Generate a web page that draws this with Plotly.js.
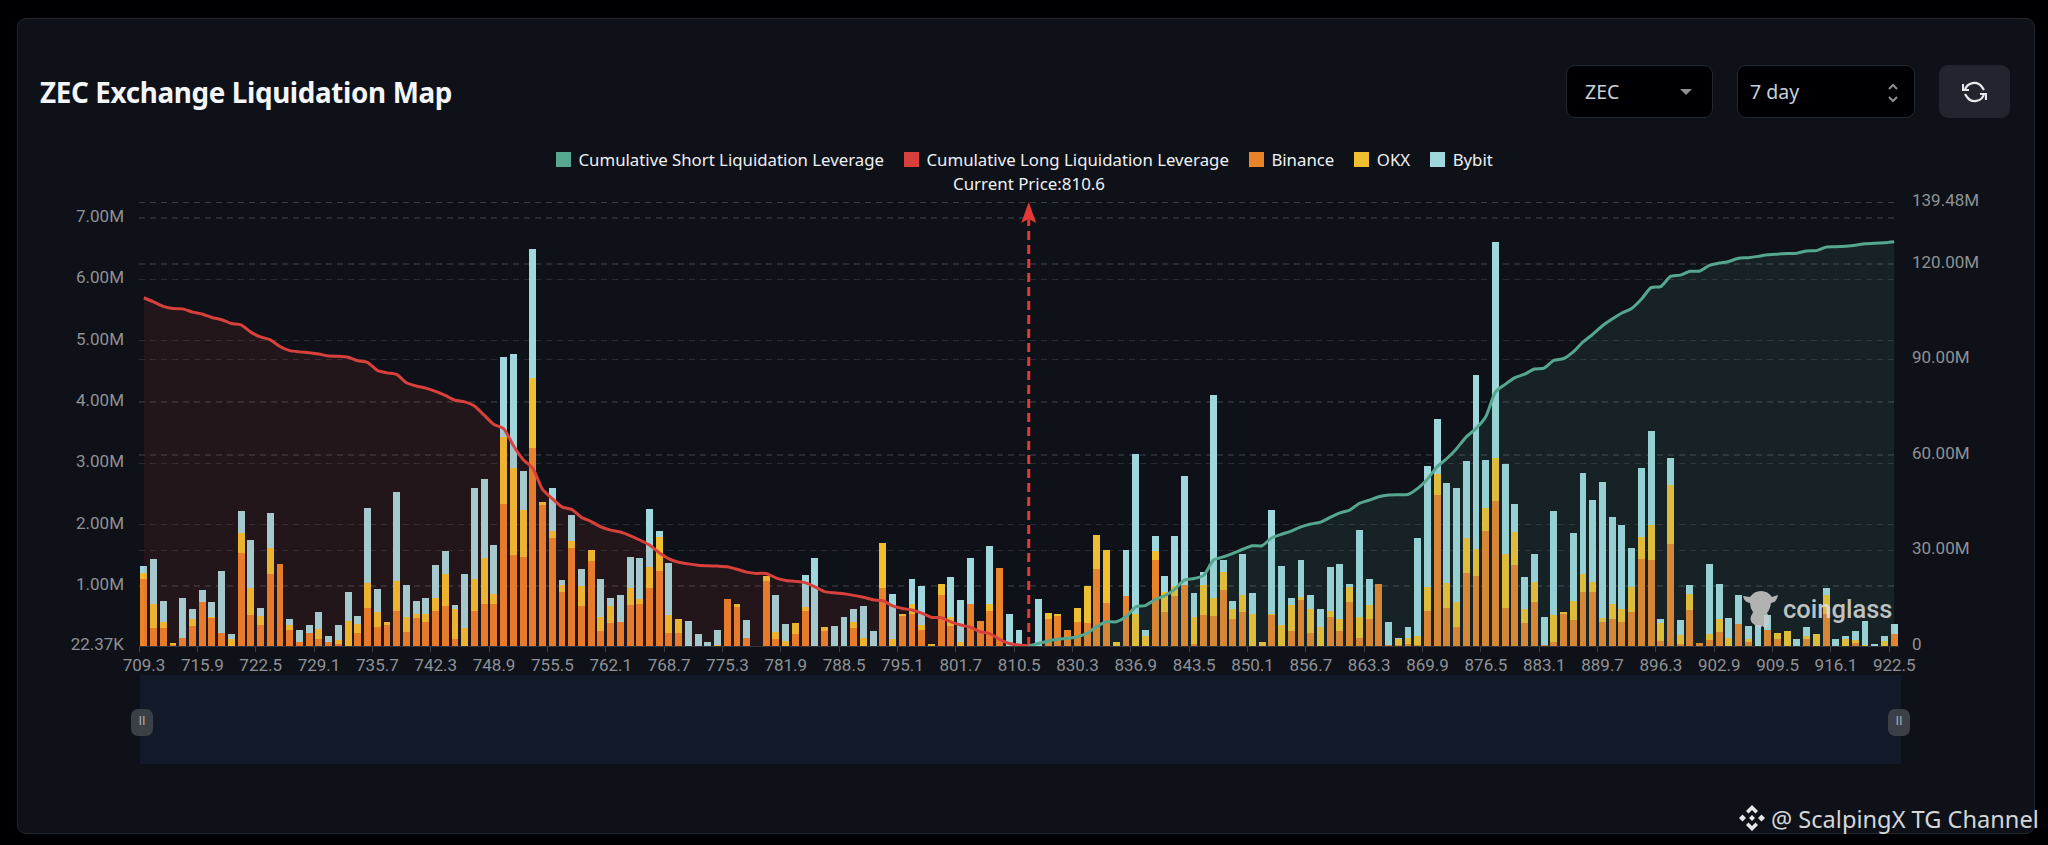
<!DOCTYPE html>
<html>
<head>
<meta charset="utf-8">
<title>ZEC Exchange Liquidation Map</title>
<script src="https://cdn.plot.ly/plotly-3.0.1.min.js"></script>
<style>
  html, body { margin: 0; padding: 0; background: #000004; width: 2048px; height: 845px; overflow: hidden; }
  #card { position: absolute; left: 17px; top: 18px; width: 2016px; height: 814px; background: #0e1118; border: 1px solid #23262c; border-radius: 9px; }
  #myDiv { position: absolute; left: 0; top: 0; width: 2048px; height: 845px; }
  .txt { position: absolute; white-space: nowrap; font-family: "Noto Sans", sans-serif; }
  #title { left: 40px; top: 72px; font-size: 27.8px; font-weight: 700; color: #f4f6fa; line-height: 40px; letter-spacing: -0.35px; }
  .box { position: absolute; top: 65px; height: 53px; background: #000004; border: 1px solid #24272d; border-radius: 9px; box-sizing: border-box; color: #c6d0d8; font: 19.5px/51px "Noto Sans", sans-serif; }
  #legend { position: absolute; left: 556px; top: 149px; height: 20px; display: flex; align-items: center; font: 16.8px "Noto Sans", sans-serif; color: #eef0f3; white-space: nowrap; }
  #legend i { display: block; width: 15px; height: 15px; margin-right: 7.5px; }
  #legend span { margin-right: 20px; }
  #price { left: 829px; width: 400px; text-align: center; top: 173px; font-size: 16.9px; line-height: 22px; color: #eef0f3; }
  #slider { position: absolute; left: 140px; top: 675px; width: 1761px; height: 89px; background: #121929; }
  .handle { position: absolute; top: 709px; width: 22px; height: 27px; border-radius: 7px; background: #3b4047; color: #a9adb2; font: 12px/25px "DejaVu Sans", sans-serif; text-align: center; }
  #mark { left: 1783px; top: 590px; font-family: Roboto, sans-serif; font-size: 25.5px; font-weight: 500; color: rgba(222,224,224,0.85); line-height: 38px; }
  #tg { left: 1771px; top: 803px; font-size: 23.6px; line-height: 32px; color: #d4d6d8; }
</style>
</head>
<body>
<div id="card"></div>
<div id="slider"></div>
<div id="myDiv"></div>

<div class="txt" id="title">ZEC Exchange Liquidation Map</div>

<div class="box" style="left:1566px;width:147px;padding-left:18px;">ZEC
  <svg style="position:absolute;left:112px;top:22px" width="14" height="10"><path d="M1 1H13L7 7Z" fill="#8d8f93"/></svg>
</div>
<div class="box" style="left:1737px;width:178px;padding-left:12px;">7 day
  <svg style="position:absolute;left:148px;top:16px" width="14" height="22" fill="none" stroke="#8d8f93" stroke-width="2"><path d="M3 7L7 3L11 7M3 15L7 19L11 15"/></svg>
</div>
<div class="box" style="left:1939px;width:71px;background:#22252d;border:none;">
  <svg style="position:absolute;left:23px;top:15px" width="25" height="24" fill="none" stroke="#e6e8ea" stroke-width="2.2"><path d="M3 10A9.5 9.5 0 0 1 20 7L22 10M22 14A9.5 9.5 0 0 1 5 17L3 14"/><path d="M1 4V10H7M24 20V14H18"/></svg>
</div>

<div id="legend">
  <i style="background:#55a78f"></i><span>Cumulative Short Liquidation Leverage</span>
  <i style="background:#d8403c"></i><span>Cumulative Long Liquidation Leverage</span>
  <i style="background:#e8832a"></i><span>Binance</span>
  <i style="background:#eec02f"></i><span>OKX</span>
  <i style="background:#9fd7dc"></i><span>Bybit</span>
</div>
<div class="txt" id="price">Current Price:810.6</div>

<div class="handle" style="left:131px">II</div>
<div class="handle" style="left:1888px">II</div>

<svg style="position:absolute;left:1740px;top:588px" width="42" height="44" fill="rgba(205,205,205,0.85)">
  <path d="M3 8L10 9Q14 3 21 3Q28 3 32 9L38 7Q37 14 31 15Q30 22 27 25Q31 31 28 36L27 41L22 38L20 41L15 37Q9 34 11 28Q13 25 13 24Q10 20 10 15Q4 14 3 8Z"/>
</svg>
<div class="txt" id="mark">coinglass</div>

<svg style="position:absolute;left:1738px;top:804px" width="28" height="28" fill="#e6e8ea">
  <path d="M14 1L20 7L17.5 9.5L14 6L10.5 9.5L8 7ZM4.5 10.5L8 14L4.5 17.5L1 14ZM23.500 10.500L27 14L23.500 17.500L20 14ZM14 11L17 14L14 17L11 14ZM8 21L10.500 18.500L14 22L17.500 18.500L20 21L14 27Z"/>
</svg>
<div class="txt" id="tg">@ ScalpingX TG Channel</div>

<script>
// Values in millions, one entry per price bucket (181 buckets)
var binance = [1.11,.32,.32,.04,.16,.35,.74,.48,.23,0,1.54,.53,.37,1.19,1.36,.29,.09,.23,.14,.08,.05,0,.23,.65,.34,.36,.59,.25,.48,.41,.59,.67,.13,0,.60,.71,.70,2.33,1.51,1.48,3.25,2.32,1.79,.91,1.62,
  .67,1.41,.27,.39,.41,.69,.71,.96,1.24,.24,.24,0,0,0,0,.79,.66,.15,0,1.09,.14,0,.22,.59,0,.26,0,0,.31,0,0,.96,0,.51,.54,.29,0,.86,.35,0,.71,.43,.60,1.29,0,0,
  0,0,.46,.51,.29,.42,.40,1.28,.73,0,.83,0,0,1.42,.57,.84,1.02,.05,.53,.51,.93,.47,.58,0,0,.52,0,.27,.77,.23,0,.49,.27,.74,.15,.47,1.03,.04,.04,.05,.04,.59,2.49,.65,.34,1.22,
  1.17,1.89,2.38,.64,1.35,.39,.74,.04,.09,.54,.44,.90,.90,.41,.47,.42,.57,1.44,1.42,.11,1.68,.05,.61,.07,.12,.25,0,.38,.08,0,.28,.13,0,0,.13,.03,.55,.01,.03,.07,.01,0,.02,.21];
var okx = [.10,.39,.09,.03,0,.11,0,.01,0,.14,.33,.43,.14,.43,0,.08,0,.01,.16,0,.07,.43,.15,.40,.23,.06,.50,.25,.06,.13,.21,.53,.49,.32,.52,.74,.17,1.10,1.42,.76,1.14,.05,.11,.10,.11,
  .33,.18,.23,.28,.01,.27,.08,.35,.56,.29,.22,0,0,0,.04,0,.04,0,0,.07,.11,.10,.18,.07,.03,.08,0,.03,.11,.16,0,.74,.14,.03,.17,.08,.05,.18,.14,.08,0,0,.10,0,0,0,
  0,0,.10,.03,0,.23,.60,.55,.85,.08,0,.54,.18,.15,.33,.16,0,.44,.48,.29,.30,.15,.27,.54,.09,.03,.37,.42,.05,.40,.33,.11,.20,.25,.35,.22,0,0,.09,.10,.15,.40,.33,.40,.40,.56,
  .43,.38,.71,.88,.53,.24,.32,0,.44,.04,.31,.30,.16,.07,.24,.21,.42,.36,.58,.28,.97,.15,.26,0,.10,.21,.16,0,.06,0,0,.10,.26,0,.05,.19,.30,0,.11,.05,.03,0,.09,0];
var bybit = [.12,.73,.35,0,.65,.16,.20,.25,1.02,.07,.36,.79,.14,.57,0,.10,.20,.12,.28,.10,.25,.47,.13,1.22,.38,0,1.45,.51,.21,.27,.55,.37,.07,.88,1.48,1.29,.80,1.30,1.86,.64,2.11,0,.70,.09,.42,
  .27,0,.61,.13,.43,.51,.67,.95,.09,.84,0,.43,.22,.08,.25,0,0,.29,0,0,.60,.28,0,.52,1.43,0,.35,.47,.21,.51,.26,0,.73,0,.41,.63,0,0,.66,.70,.75,0,.96,0,.55,.29,
  0,.79,0,0,0,0,0,0,0,0,.76,2.61,.11,.25,.26,.81,1.78,.40,.22,3.31,.19,.14,.67,.35,0,1.69,.96,.12,.61,.22,.29,.71,.89,.04,1.41,.42,0,.38,.03,.18,1.60,1.97,.90,1.63,1.86,1.26,
  2.84,.79,3.51,1.47,.45,.52,.46,.45,1.69,0,1.11,1.64,1.35,2.21,1.41,1.37,.63,1.12,1.52,.08,.43,.25,.14,0,1.14,.58,.32,.48,.21,.37,.25,0,0,.14,.16,0,.12,.12,.05,.14,.39,.05,.07,.17];

// Cumulative leverage in millions, long side runs down to the current price, short side up from it
var longLine = [109.4,108.1,106.7,106.0,105.9,104.9,104.3,103.2,102.5,101.3,100.9,98.6,97.1,96.2,94.1,92.8,92.4,92.1,91.7,91.1,91.0,90.7,89.6,89.1,86.6,85.8,85.3,82.7,81.7,81.0,80.0,78.7,77.2,76.7,75.4,72.5,69.6,68.3,63.0,58.6,55.8,49.2,46.3,43.7,42.9,
  40.4,39.1,37.4,36.4,35.8,34.7,33.3,31.7,29.3,27.4,26.3,25.8,25.4,25.2,25.1,24.9,24.1,23.2,22.8,22.8,21.4,20.6,20.3,19.9,18.6,17.1,16.7,16.4,15.9,15.3,14.5,14.2,12.6,11.8,11.3,10.3,9.0,8.9,7.6,6.6,5.9,4.5,3.9,2.1,0.8,0.3,0];
var shortLine = [0,0.8,1.6,2.1,2.4,2.9,4.0,6.1,7.6,7.6,9.2,12.3,12.7,14.6,15.8,17.8,20.7,21.2,22.2,27.0,28.0,29.1,30.4,31.5,31.5,34.0,35.1,36.1,37.4,38.3,38.9,40.4,41.8,42.7,44.8,45.8,46.9,47.4,47.5,47.6,49.5,52.4,56.3,58.9,62.0,65.7,
  68.3,72.0,79.8,82.2,84.3,85.4,87.0,87.3,89.7,90.3,92.4,95.5,97.9,100.6,102.7,104.6,106.0,108.9,112.6,112.9,116.1,116.5,117.7,117.8,119.6,120.3,120.8,121.8,122.0,122.4,122.9,123.1,123.3,123.4,124.1,124.2,125.3,125.4,125.6,125.9,126.4,126.5,126.7,127.0];

var xTickLabels = ["709.3","715.9","722.5","729.1","735.7","742.3","748.9","755.5","762.1","768.7","775.3","781.9","788.5","795.1","801.7","810.5","830.3","836.9","843.5","850.1","856.7","863.3","869.9","876.5","883.1","889.7","896.3","902.9","909.5","916.1","922.5"];
var leftTicks = [0.02237,1,2,3,4,5,6,7];
var leftLabels = ["22.37K","1.00M","2.00M","3.00M","4.00M","5.00M","6.00M","7.00M"];
var rightTicks = [0,30,60,90,120,139.48];
var rightLabels = ["0","30.00M","60.00M","90.00M","120.00M","139.48M"];

var priceIndex = 91; // bucket of the current price
var buckets = binance.map(function(v, i) { return i; });
var longX = longLine.map(function(v, i) { return i; });
var shortX = shortLine.map(function(v, i) { return priceIndex + i; });
var xTickVals = xTickLabels.map(function(v, i) { return i * 6 - 0.5; });

var tickFont = {family: "Roboto, sans-serif", size: 17, color: "#8e9196"};
var gridColor = "rgba(255,255,255,0.11)";

var data = [
  {type: "bar", name: "Binance", x: buckets, y: binance, marker: {color: "#e8832a"}},
  {type: "bar", name: "OKX", x: buckets, y: okx, marker: {color: "#eec02f"}},
  {type: "bar", name: "Bybit", x: buckets, y: bybit, marker: {color: "#9fd7dc"}},
  {type: "scatter", mode: "lines", name: "Cumulative Long Liquidation Leverage", x: longX, y: longLine, yaxis: "y2",
    line: {color: "#d8403c", width: 3, shape: "spline", smoothing: 0.6}, fill: "tozeroy", fillcolor: "rgba(217,68,63,0.10)"},
  {type: "scatter", mode: "lines", name: "Cumulative Short Liquidation Leverage", x: shortX, y: shortLine, yaxis: "y2",
    line: {color: "#55a78f", width: 3, shape: "spline", smoothing: 0.6}, fill: "tozeroy", fillcolor: "rgba(90,168,143,0.12)"},
  {type: "scatter", mode: "lines", name: "Current Price", x: [priceIndex, priceIndex], y: [0.02237, 6.98], cliponaxis: false,
    line: {color: "#e53935", width: 3, dash: "9px,5px"}}
];

var layout = {
  width: 2048,
  height: 845,
  margin: {t: 202, b: 199, l: 139, r: 149, pad: 0},
  paper_bgcolor: "rgba(0,0,0,0)",
  plot_bgcolor: "rgba(0,0,0,0)",
  showlegend: false,
  barmode: "stack",
  bargap: 0.29,
  xaxis: {
    range: [-0.5, 180.5], tickmode: "array", tickvals: xTickVals, ticktext: xTickLabels,
    ticks: "outside", ticklen: 5, tickcolor: "#3c3f45", ticklabelshift: 5, ticklabelstandoff: -1, tickfont: tickFont,
    showgrid: false, zeroline: false, showline: true, linecolor: "#33363c", linewidth: 1
  },
  yaxis: {
    range: [0.02237, 7.26], tickmode: "array", tickvals: leftTicks, ticktext: leftLabels, tickfont: tickFont,
    ticks: "", ticklabelstandoff: 14, ticklabelshift: -2, showgrid: true, gridcolor: gridColor, griddash: "6px,5px", gridwidth: 1.5, zeroline: false
  },
  yaxis2: {
    overlaying: "y", side: "right", range: [0, 139.48], tickmode: "array", tickvals: rightTicks, ticktext: rightLabels, tickfont: tickFont,
    ticks: "", ticklabelstandoff: 12, ticklabelshift: -2, showgrid: true, gridcolor: gridColor, griddash: "6px,5px", gridwidth: 1.5, zeroline: false
  },
  shapes: [
    // top grid line, plotly skips the one sitting on the axis end
    {type: "line", xref: "paper", x0: 0, x1: 1, yref: "y2", y0: 139.48, y1: 139.48, layer: "below",
      line: {color: "rgba(255,255,255,0.25)", width: 1.5, dash: "6px,5px"}},
    // arrow head on the current price line, pixel sized and anchored on the bucket
    {type: "path", xref: "x", yref: "y", xsizemode: "pixel", ysizemode: "pixel", xanchor: priceIndex, yanchor: 7.26,
      path: "M0,0L-7.5,-21L0,-17L7.5,-21Z", fillcolor: "#e53935", line: {width: 0}, layer: "above"}
  ]
};

Plotly.newPlot("myDiv", data, layout, {displayModeBar: false, staticPlot: true});
</script>
</body>
</html>
